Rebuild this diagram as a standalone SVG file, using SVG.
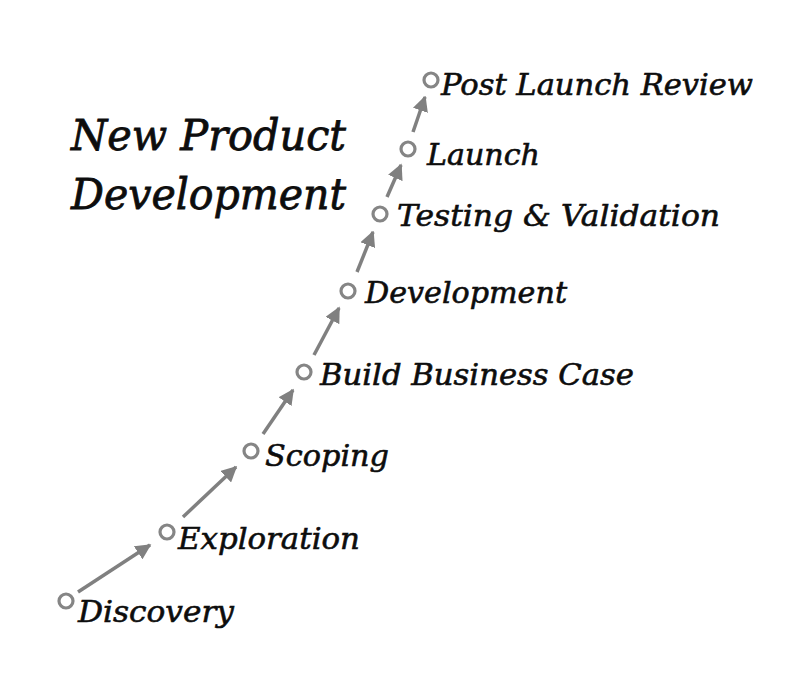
<svg xmlns="http://www.w3.org/2000/svg" width="800" height="674" viewBox="0 0 800 674">
<defs>
<marker id="ah" viewBox="0 0 10 10" refX="9" refY="5" markerWidth="4.5" markerHeight="4.5" orient="auto" markerUnits="strokeWidth">
<path d="M0,0 L10,5 L0,10 Z" fill="#808080"/>
</marker>
</defs>
<style>
.n circle{fill:none;stroke:#858585;stroke-width:3.2}
.lbl{font-family:"DejaVu Serif","Liberation Serif",serif;font-style:italic;font-size:30px;fill:#0d0d0d;stroke:#0d0d0d;stroke-width:0.6}
.title{font-family:"DejaVu Serif","Liberation Serif",serif;font-style:italic;font-size:42px;fill:#0d0d0d;stroke:#0d0d0d;stroke-width:0.8}
.c line{stroke:#808080;stroke-width:3.5;marker-end:url(#ah)}
</style>
<rect width="800" height="674" fill="#fff"/>
<g id="title">
<text class="title" x="71" y="150" textLength="275" lengthAdjust="spacingAndGlyphs">New Product</text>
<text class="title" x="71" y="209" textLength="275" lengthAdjust="spacingAndGlyphs">Development</text>
</g>
<g id="connectors" class="c">
<line x1="78" y1="592" x2="150" y2="545"/>
<line x1="183" y1="517" x2="236" y2="467"/>
<line x1="263" y1="434" x2="293" y2="390"/>
<line x1="314" y1="355" x2="339" y2="308"/>
<line x1="357" y1="272" x2="373" y2="232"/>
<line x1="387" y1="197" x2="401" y2="165"/>
<line x1="413" y1="132" x2="425" y2="97"/>
</g>
<g id="discovery" class="n"><circle cx="66" cy="601" r="7"/><text class="lbl" x="78" y="622" textLength="156" lengthAdjust="spacingAndGlyphs">Discovery</text></g>
<g id="exploration" class="n"><circle cx="167" cy="532" r="7"/><text class="lbl" x="178" y="549" textLength="182" lengthAdjust="spacingAndGlyphs">Exploration</text></g>
<g id="scoping" class="n"><circle cx="251" cy="451" r="7"/><text class="lbl" x="265" y="466" textLength="124" lengthAdjust="spacingAndGlyphs">Scoping</text></g>
<g id="build-business-case" class="n"><circle cx="304" cy="372" r="7"/><text class="lbl" x="320" y="385" textLength="314" lengthAdjust="spacingAndGlyphs">Build Business Case</text></g>
<g id="development" class="n"><circle cx="348" cy="291" r="7"/><text class="lbl" x="365" y="303" textLength="202" lengthAdjust="spacingAndGlyphs">Development</text></g>
<g id="testing-validation" class="n"><circle cx="380" cy="214" r="7"/><text class="lbl" x="397" y="226" textLength="323" lengthAdjust="spacingAndGlyphs">Testing &amp; Validation</text></g>
<g id="launch" class="n"><circle cx="408" cy="149" r="7"/><text class="lbl" x="427" y="165" textLength="113" lengthAdjust="spacingAndGlyphs">Launch</text></g>
<g id="post-launch-review" class="n"><circle cx="431" cy="80" r="7"/><text class="lbl" x="441" y="95" textLength="312" lengthAdjust="spacingAndGlyphs">Post Launch Review</text></g>
</svg>
